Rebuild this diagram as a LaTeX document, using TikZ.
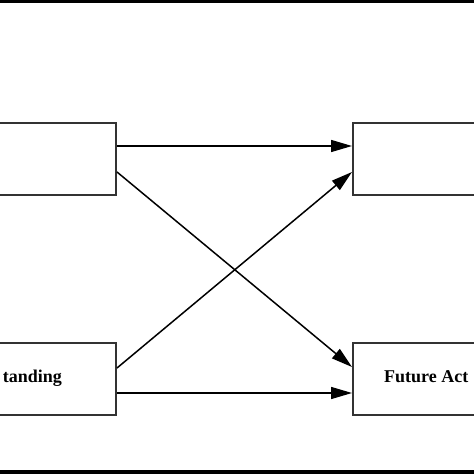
\documentclass[tikz,border=0pt]{standalone}
\usepackage{fontspec}
\setmainfont{Liberation Serif}
\usetikzlibrary{arrows.meta}
\newcommand{\boxfont}{\fontsize{18}{20}\selectfont\bfseries}
\begin{document}
\begin{tikzpicture}[x=1pt,y=1pt,
  box/.style={draw=black!80, line width=2pt, rectangle, minimum height=72pt, inner sep=0pt},
  lbl/.style={inner sep=0pt, font=\boxfont},
  conn/.style={line width=1.5pt, -{Triangle[length=21pt,width=12pt]}}]
\useasboundingbox (0,0) rectangle (474,474);
\clip (0,0) rectangle (474,474);
\fill[white] (0,0) rectangle (474,474);
\fill[black] (0,471) rectangle (474,474);
\fill[black] (0,0) rectangle (474,4);
% boxes
\node[box, minimum width=240pt, anchor=east] (tl) at (117,315) {};
\node[box, minimum width=240pt, anchor=west] (tr) at (352,315) {};
\node[box, minimum width=240pt, anchor=east] (bl) at (117,94.5) {};
\node[box, minimum width=240pt, anchor=west] (br) at (352,94.5) {};
\node[lbl, anchor=base east] (blt) at (62,91) {tanding};
\node[lbl, anchor=base west] (brt) at (384,91) {Future Act};
% connectors
\draw[conn] ([yshift=13pt]tl.east) -- ([yshift=13pt]tr.west);
\draw[conn] ([yshift=-13pt]tl.east) -- ([yshift=12.5pt]br.west);
\draw[conn] ([yshift=11.5pt]bl.east) -- ([yshift=-13pt]tr.west);
\draw[conn] ([yshift=-13.5pt]bl.east) -- ([yshift=-13.5pt]br.west);
\end{tikzpicture}
\end{document}
